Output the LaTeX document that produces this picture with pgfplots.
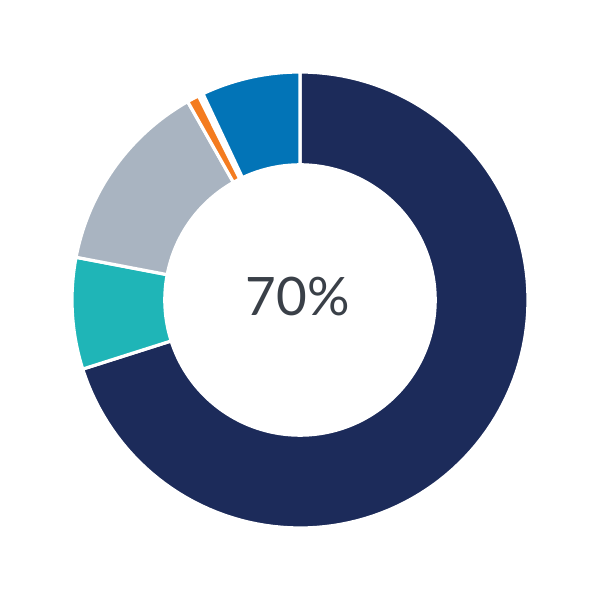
\documentclass[border=0pt]{standalone}
\usepackage{pgfplots}
\pgfplotsset{compat=1.18}
\usepackage{fontspec}
\setmainfont{Lato}
\definecolor{cnavy}{HTML}{1C2B5A}
\definecolor{cteal}{HTML}{1FB5B7}
\definecolor{cgray}{HTML}{A9B4C1}
\definecolor{corange}{HTML}{F47C20}
\definecolor{cblue}{HTML}{0274B7}
\definecolor{ctext}{HTML}{3A4048}
% segment values in percent, clockwise from 12 o'clock
\def\vNavy{70.1}
\def\vTeal{7.9}
\def\vGray{13.8}
\def\vOrange{0.85}
\def\vGap{0.35}
\def\vBlue{7.0}
\pgfmathsetmacro\aA{90}
\pgfmathsetmacro\aB{\aA-3.6*\vNavy}
\pgfmathsetmacro\aC{\aB-3.6*\vTeal}
\pgfmathsetmacro\aD{\aC-3.6*\vGray}
\pgfmathsetmacro\aE{\aD-3.6*\vOrange}
\pgfmathsetmacro\aF{\aE-3.6*\vGap}
\pgfmathsetmacro\aG{\aF-3.6*\vBlue}
\begin{document}
\begin{tikzpicture}
\begin{axis}[hide axis, scale only axis, width=300pt, height=300pt,
  xmin=-1.3158, xmax=1.3158, ymin=-1.3158, ymax=1.3158]
\path (rel axis cs:0,0) rectangle (rel axis cs:1,1);
\addplot[fill=cnavy, draw=white, line width=1.6pt, domain=\aB:\aA, samples=120] ({cos(x)},{sin(x)}) -- (axis cs:0,0) -- cycle;
\addplot[fill=cteal, draw=white, line width=1.6pt, domain=\aC:\aB, samples=30] ({cos(x)},{sin(x)}) -- (axis cs:0,0) -- cycle;
\addplot[fill=cgray, draw=white, line width=1.6pt, domain=\aD:\aC, samples=40] ({cos(x)},{sin(x)}) -- (axis cs:0,0) -- cycle;
\addplot[fill=corange, draw=white, line width=1.6pt, domain=\aE:\aD, samples=5] ({cos(x)},{sin(x)}) -- (axis cs:0,0) -- cycle;
\addplot[fill=cblue, draw=white, line width=1.6pt, domain=\aG:\aF, samples=30] ({cos(x)},{sin(x)}) -- (axis cs:0,0) -- cycle;
\addplot[fill=white, draw=none, domain=0:360, samples=180] ({0.6*cos(x)},{0.6*sin(x)}) -- cycle;
\node[anchor=base, text=ctext, font=\fontsize{26.5}{30}\selectfont] at (axis cs:-0.01,-0.068) {70\%};
\end{axis}
\end{tikzpicture}
\end{document}
